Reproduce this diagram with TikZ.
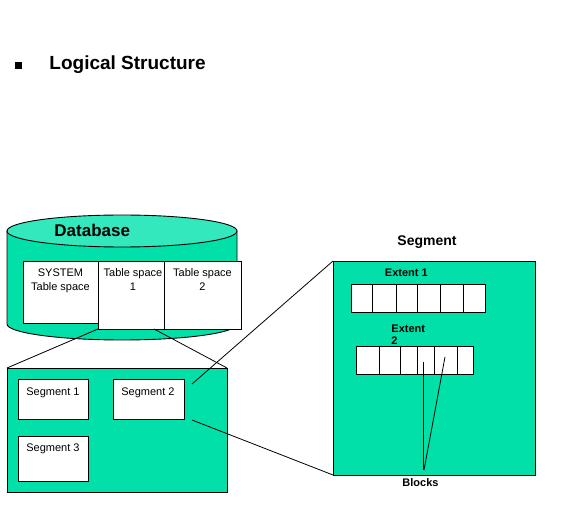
\documentclass[tikz,border=0pt]{standalone}
\usepackage{fontspec}
\setmainfont{Liberation Sans}
\definecolor{segfill}{RGB}{0,224,168}
\definecolor{topfill}{RGB}{51,232,188}
\begin{document}
\begin{tikzpicture}[x=1pt,y=-1pt,line width=0.9pt,
  whitebox/.style={draw=black,fill=white,line width=0.9pt},
  greenbox/.style={draw=black,fill=segfill,line width=0.9pt},
  lbl/.style={font=\fontsize{11}{14}\selectfont,inner sep=0pt},
  mlbl/.style={font=\fontsize{11}{14}\selectfont,inner sep=0pt,align=center,anchor=north},
  bold/.style={font=\fontsize{#1}{12}\selectfont\bfseries,inner sep=0pt,anchor=base west},
  link/.style={draw=black,line width=0.8pt}]
\useasboundingbox (0,0) rectangle (582,505);

% header
\node[fill=black,minimum size=7pt,inner sep=0pt] (bullet) at (18.5,65.5) {};
\node[bold=19] (title) at (49,70) {Logical Structure};

% cylinder
\path[fill=segfill,draw=black,line width=0.9pt] (7,231) -- (7,324)
  arc[start angle=180,end angle=360,x radius=115pt,y radius=16pt] -- (237,231) -- cycle;
\path[fill=topfill,draw=black,line width=0.9pt] (122,231) ellipse[x radius=115pt,y radius=16pt];
\node[bold=17] (dbtitle) at (54,237) {Database};

% table spaces
\draw[whitebox] (23,261) rectangle (98,323);
\node[mlbl] (sys) at (60.5,268) {SYSTEM\\Table space};
\draw[whitebox] (98,261) rectangle (164,329);
\coordinate (ts1sw) at (98,329);
\coordinate (ts1s) at (154,329);
\node[mlbl] (ts1) at (133,268) {Table space\\1};
\draw[whitebox] (164,261) rectangle (241,329);
\node[mlbl] (ts2) at (202.5,268) {Table space\\2};

% lower rectangle
\draw[greenbox] (7,368) rectangle (227,492);
\coordinate (lownw) at (7,368);
\coordinate (lowne) at (227,368);
\draw[whitebox] (18,379) rectangle (88,419);
\node[lbl,anchor=base] (seg1) at (53,396) {Segment 1};
\draw[whitebox] (113,379) rectangle (184,419);
\node[lbl,anchor=base] (seg2) at (148,396) {Segment 2};
\coordinate (seg2a) at (192,384);
\coordinate (seg2b) at (192,420);
\draw[whitebox] (18,436) rectangle (88,481);
\node[lbl,anchor=base] (seg3) at (53,451.5) {Segment 3};

% segment detail
\node[bold=14] (segtitle) at (397,246) {Segment};
\draw[greenbox] (333,261) rectangle (535,475);
\coordinate (segnw) at (333,261);
\coordinate (segsw) at (333,475);
\node[bold=11] (ext1) at (384.5,277) {Extent 1};
\foreach \a/\b in {351/372,372/396,396/417,417/440,440/463,463/485}
  \draw[whitebox] (\a,284) rectangle (\b,312);
\node[bold=11,anchor=north west,align=left,font=\fontsize{11}{12}\selectfont\bfseries] (ext2) at (391,324) {Extent\\2};
\foreach \a/\b in {356/379,379/400,400/417,417/434,434/457,457/473}
  \draw[whitebox] (\a,346) rectangle (\b,374);

% blocks
\node[bold=11] (blocks) at (402,487) {Blocks};
\coordinate (blk1) at (423,362);
\coordinate (blk2) at (445,357);
\coordinate (blk1e) at (423,470);
\coordinate (blk2e) at (424,470);
\draw[link] (blk1) -- (blk1e);
\draw[link] (blk2) -- (blk2e);

% connectors
\draw[link] (ts1sw) -- (lownw);
\draw[link] (ts1s) -- (lowne);
\draw[link] (seg2a) -- (segnw);
\draw[link] (seg2b) -- (segsw);
\end{tikzpicture}
\end{document}
